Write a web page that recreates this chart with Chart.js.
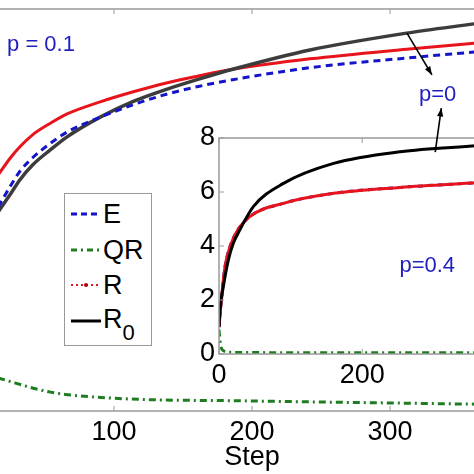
<!DOCTYPE html>
<html lang="en">
<head>
    <meta charset="UTF-8">
    <title>step chart</title>
    <style>
        html, body { margin: 0; padding: 0; width: 474px; height: 474px; overflow: hidden; background: #fff; }
        #main { position: absolute; left: -24px; top: 0; }
        #inset { position: absolute; left: 150px; top: 100px; }
        #legend {
            position: absolute; left: 64px; top: 193px; width: 86px; height: 151px;
            border: 1px solid #999; background: #fff;
            font-family: "Liberation Sans", Arial, sans-serif; font-size: 27px; color: #000;
        }
        #legend .row { position: absolute; left: 0; width: 86px; height: 32px; }
        #legend svg { position: absolute; left: 5px; top: 0; }
        #legend span { position: absolute; left: 38px; top: 0; line-height: 32px; }
        #legend sub { font-size: 22px; vertical-align: -12px; line-height: 0; }
    </style>
</head>
<body>
    <canvas id="main" width="552" height="474"></canvas>
    <canvas id="inset" width="427" height="294"></canvas>

    <div id="legend">
        <div class="row" style="top:4px">
            <svg width="32" height="32"><line x1="1" y1="16" x2="31" y2="16" stroke="#1414c8" stroke-width="3" stroke-dasharray="6,4"/></svg>
            <span>E</span>
        </div>
        <div class="row" style="top:40px">
            <svg width="32" height="32"><line x1="1" y1="16" x2="31" y2="16" stroke="#1e7d1e" stroke-width="3" stroke-dasharray="6,4,2,4"/></svg>
            <span>QR</span>
        </div>
        <div class="row" style="top:75px">
            <svg width="32" height="32"><line x1="1" y1="16" x2="31" y2="16" stroke="#e8141b" stroke-width="2" stroke-dasharray="2,3"/><circle cx="16" cy="16" r="2" fill="#b0000a"/></svg>
            <span>R</span>
        </div>
        <div class="row" style="top:109px">
            <svg width="32" height="32" style="top:2px"><line x1="1" y1="16" x2="31" y2="16" stroke="#000" stroke-width="3"/></svg>
            <span>R<sub>0</sub></span>
        </div>
    </div>

    <script src="https://cdn.jsdelivr.net/npm/chart.js"></script>

    <script>
        // main plot (p = 0.1)
        const mainSteps = [16, 25, 32, 41, 54, 66, 90, 114, 138, 162, 186, 242, 312, 361];
        const mainE  = [5.07, 5.60, 5.97, 6.30, 6.66, 6.94, 7.31, 7.62, 7.88, 8.08, 8.24, 8.54, 8.78, 8.93];
        const mainR  = [5.87, 6.30, 6.58, 6.87, 7.16, 7.39, 7.69, 7.94, 8.16, 8.34, 8.50, 8.76, 9.00, 9.15];
        const mainR0 = [4.95, 5.40, 5.76, 6.12, 6.50, 6.82, 7.31, 7.70, 8.00, 8.26, 8.50, 8.98, 9.40, 9.63];
        const mainQRSteps = [16, 54, 99, 199, 299, 362];
        const mainQR = [0.82, 0.47, 0.32, 0.25, 0.20, 0.17];
        const mainTicks = [100, 200, 300];

        // inset (p = 0.4 and p = 0)
        const insetRSteps = [0, 3.7, 8.4, 15.4, 24.7, 43, 90, 160, 253, 360];
        const insetE  = [1.0, 2.12, 3.23, 3.97, 4.53, 5.09, 5.58, 5.95, 6.17, 6.34];
        const insetR  = [1.0, 2.12, 3.23, 3.97, 4.53, 5.09, 5.58, 5.95, 6.17, 6.34];
        const insetR0Steps = [0, 1.4, 6, 13, 20, 29, 48, 90, 160, 253, 360];
        const insetR0 = [1.0, 1.63, 2.49, 3.48, 4.10, 4.59, 5.46, 6.32, 7.06, 7.49, 7.71];
        const insetQRSteps = [0, 1, 2, 4, 8, 20, 100, 360];
        const insetQR = [0.9, 0.6, 0.35, 0.18, 0.1, 0.06, 0.05, 0.05];
        const insetYTicks = [0, 2, 4, 6, 8];
        const insetXTicks = [0, 200, 400];

        const FONT = '"Liberation Sans", Arial, sans-serif';
        const BLUE = '#1414c8', RED = '#e8141b', GREEN = '#1e7d1e';

        function pts(xs, ys) {
            return xs.map((x, i) => ({ x: x, y: ys[i] }));
        }

        function arrow(ctx, x1, y1, x2, y2) {
            const ang = Math.atan2(y2 - y1, x2 - x1);
            ctx.beginPath();
            ctx.moveTo(x1, y1);
            ctx.lineTo(x2, y2);
            ctx.stroke();
            ctx.beginPath();
            ctx.moveTo(x2, y2);
            ctx.lineTo(x2 - 9 * Math.cos(ang - 0.35), y2 - 9 * Math.sin(ang - 0.35));
            ctx.lineTo(x2 - 9 * Math.cos(ang + 0.35), y2 - 9 * Math.sin(ang + 0.35));
            ctx.closePath();
            ctx.fill();
        }

        // box, inward ticks, notes and arrows (MATLAB look)
        const boxPlugin = {
            id: 'box',
            beforeDatasetsDraw(chart, args, opts) {
                const { ctx, chartArea: a } = chart;
                if (opts.white) {
                    ctx.save();
                    ctx.fillStyle = '#fff';
                    ctx.fillRect(a.left, a.top, a.width, a.height);
                    ctx.restore();
                }
            },
            afterDraw(chart, args, opts) {
                const { ctx, chartArea: a, scales } = chart;
                ctx.save();
                ctx.strokeStyle = '#9a9a9a';
                ctx.lineWidth = 1.5;
                ctx.strokeRect(a.left, a.top, a.width, a.height);
                ctx.lineWidth = 1;
                scales.x.ticks.forEach((t, i) => {
                    const px = scales.x.getPixelForTick(i);
                    ctx.beginPath();
                    ctx.moveTo(px, a.bottom); ctx.lineTo(px, a.bottom - 5);
                    ctx.moveTo(px, a.top); ctx.lineTo(px, a.top + 5);
                    ctx.stroke();
                });
                if (scales.y.options.display) {
                    scales.y.ticks.forEach((t, i) => {
                        const py = scales.y.getPixelForTick(i);
                        ctx.beginPath();
                        ctx.moveTo(a.left, py); ctx.lineTo(a.left + 5, py);
                        ctx.stroke();
                    });
                }
                ctx.strokeStyle = '#000';
                ctx.fillStyle = '#000';
                ctx.lineWidth = 1.6;
                (opts.arrows || []).forEach(ar => {
                    arrow(ctx,
                        scales.x.getPixelForValue(ar[0]), scales.y.getPixelForValue(ar[1]),
                        scales.x.getPixelForValue(ar[2]), scales.y.getPixelForValue(ar[3]));
                });
                ctx.fillStyle = '#1f1fbf';
                ctx.font = '22px ' + FONT;
                ctx.textBaseline = 'middle';
                (opts.notes || []).forEach(n => {
                    ctx.fillText(n.text, scales.x.getPixelForValue(n.x), scales.y.getPixelForValue(n.y));
                });
                ctx.restore();
            }
        };

        const lineBase = { pointRadius: 0, borderWidth: 3, fill: false, cubicInterpolationMode: 'monotone' };

        new Chart(document.getElementById('main'), {
            type: 'line',
            data: {
                datasets: [
                    Object.assign({ label: 'QR', data: pts(mainQRSteps, mainQR), borderColor: GREEN, borderDash: [7, 4, 2, 4] }, lineBase),
                    Object.assign({ label: 'E', data: pts(mainSteps, mainE), borderColor: BLUE, borderDash: [7, 5] }, lineBase),
                    Object.assign({}, lineBase, { label: 'R0', data: pts(mainSteps, mainR0), borderColor: '#3c3c3c', borderWidth: 3.5 }),
                    Object.assign({ label: 'R', data: pts(mainSteps, mainR), borderColor: RED }, lineBase)
                ]
            },
            options: {
                responsive: false,
                animation: false,
                layout: { padding: { top: 9, left: 0, right: 0, bottom: 0 } },
                plugins: {
                    legend: { display: false },
                    tooltip: { enabled: false },
                    box: {
                        notes: [
                            { text: 'p = 0.1', x: 22.5, y: 9.1 },
                            { text: 'p=0', x: 321, y: 7.86 }
                        ],
                        arrows: [[312.3, 9.40, 330.4, 8.36]]
                    }
                },
                scales: {
                    x: {
                        type: 'linear', min: 0, max: 400,
                        afterBuildTicks: s => { s.ticks = mainTicks.map(v => ({ value: v })); },
                        afterFit: s => { s.height = 63; },
                        grid: { display: false, drawTicks: false },
                        border: { display: false },
                        ticks: { autoSkip: false, maxRotation: 0, padding: 5, color: '#000', font: { family: FONT, size: 27 } },
                        title: { display: true, text: 'Step', color: '#000', padding: { top: 0, bottom: 0 }, font: { family: FONT, size: 27 } }
                    },
                    y: { display: false, min: 0, max: 10 }
                }
            },
            plugins: [boxPlugin]
        });

        new Chart(document.getElementById('inset'), {
            type: 'line',
            data: {
                datasets: [
                    Object.assign({ label: 'QR', data: pts(insetQRSteps, insetQR), borderColor: GREEN, borderDash: [7, 4, 2, 4] }, lineBase),
                    Object.assign({ label: 'R0', data: pts(insetR0Steps, insetR0), borderColor: '#000' }, lineBase),
                    Object.assign({ label: 'R', data: pts(insetRSteps, insetR), borderColor: RED }, lineBase),
                    Object.assign({ label: 'E', data: pts(insetRSteps, insetE), borderColor: BLUE, borderDash: [5, 5] }, lineBase)
                ]
            },
            options: {
                responsive: false,
                animation: false,
                layout: { padding: { top: 38, left: 0, right: 0, bottom: 0 } },
                plugins: {
                    legend: { display: false },
                    tooltip: { enabled: false },
                    box: {
                        white: true,
                        notes: [{ text: 'p=0.4', x: 252, y: 3.26 }],
                        arrows: [[302, 7.48, 310.5, 9.11]]
                    }
                },
                scales: {
                    x: {
                        type: 'linear', min: 0, max: 500,
                        afterBuildTicks: s => { s.ticks = insetXTicks.map(v => ({ value: v })); },
                        afterFit: s => { s.height = 40; },
                        grid: { display: false, drawTicks: false },
                        border: { display: false },
                        ticks: { autoSkip: false, maxRotation: 0, padding: 5, color: '#000', font: { family: FONT, size: 27 } }
                    },
                    y: {
                        min: 0, max: 8,
                        afterBuildTicks: s => { s.ticks = insetYTicks.map(v => ({ value: v })); },
                        afterFit: s => { s.width = 69; },
                        grid: { display: false, drawTicks: false },
                        border: { display: false },
                        ticks: { padding: 4, color: '#000', font: { family: FONT, size: 27 } }
                    }
                }
            },
            plugins: [boxPlugin]
        });
    </script>
</body>
</html>
